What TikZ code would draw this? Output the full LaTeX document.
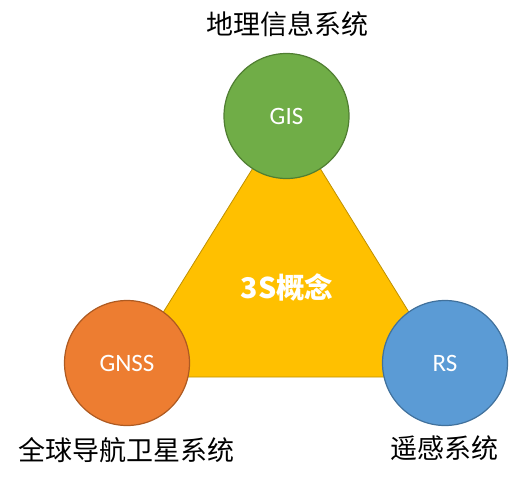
\documentclass[tikz,border=0pt]{standalone}
\usepackage{fontspec}
\setmainfont{Carlito}
\newfontfamily\cjk{Noto Sans CJK SC}

\definecolor{gisfill}{HTML}{70AD47}
\definecolor{gisline}{HTML}{507E32}
\definecolor{gnssfill}{HTML}{ED7D31}
\definecolor{gnssline}{HTML}{AE5A21}
\definecolor{rsfill}{HTML}{5B9BD5}
\definecolor{rsline}{HTML}{41719C}
\definecolor{trifill}{HTML}{FFC000}
\definecolor{triline}{HTML}{BF9000}

\tikzstyle{sys}=[circle, draw, line width=1.2pt, minimum size=125pt, inner sep=0pt, text=white, font=\fontsize{25}{25}\selectfont]
\tikzstyle{systitle}=[font=\cjk\fontsize{27}{27}\selectfont]
\tikzstyle{tri}=[fill=trifill, draw=triline, line width=0.8pt, line join=round]

\begin{document}
\begin{tikzpicture}[x=1pt, y=-1pt]
      \useasboundingbox (0,0) rectangle (516,485);

      \coordinate (apex) at (286.5,114);
      \coordinate (left) at (123,377);
      \coordinate (right) at (449,377);
      \draw[tri] (apex) -- (left) -- (right) -- cycle;

      \node[sys, fill=gisfill, draw=gisline] (gis) at (286.5,116) {GIS};
      \node[sys, fill=gnssfill, draw=gnssline] (gnss) at (127,363) {GNSS};
      \node[sys, fill=rsfill, draw=rsline] (rs) at (445,363) {RS};

      \node[systitle] (gisname) at (287,24) {地理信息系统};
      \node[systitle] (gnssname) at (126,450) {全球导航卫星系统};
      \node[systitle] (rsname) at (444,448) {遥感系统};

      \node[font=\cjk\bfseries\fontsize{28.5}{28.5}\selectfont, text=white] (concept) at (287,287) {3S概念};
    \end{tikzpicture}
\end{document}
